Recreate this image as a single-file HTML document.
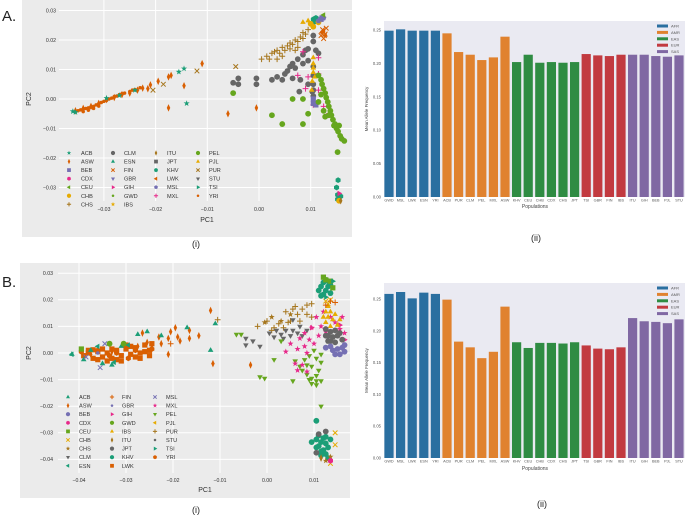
<!DOCTYPE html>
<html><head><meta charset="utf-8"><style>
html,body{margin:0;padding:0;background:#fff;width:685px;height:516px;overflow:hidden}
svg{display:block;font-family:"Liberation Sans",sans-serif}
</style></head><body>
<svg id="fig" width="685" height="516" viewBox="0 0 685 516"></svg>
<script>
// ---------- DATA ----------
const barPops = ["GWD","MSL","LWK","ESN","YRI","ACB","PUR","CLM","PEL","MXL","ASW","KHV","CEU","CHB","CDX","CHS","JPT","TSI","GBR","FIN","IBS","ITU","GIH","BEB","PJL","STU"];
const barGroups = ["AFR","AFR","AFR","AFR","AFR","AMR","AMR","AMR","AMR","AMR","AMR","EAS","EAS","EAS","EAS","EAS","EAS","EUR","EUR","EUR","EUR","SAS","SAS","SAS","SAS","SAS"];
const barValuesA = [0.249,0.251,0.249,0.249,0.249,0.245,0.217,0.213,0.205,0.209,0.240,0.202,0.213,0.201,0.202,0.201,0.202,0.214,0.212,0.211,0.213,0.213,0.213,0.211,0.210,0.212];
const barValuesB = [0.258,0.261,0.251,0.260,0.258,0.249,0.183,0.174,0.157,0.167,0.238,0.182,0.173,0.181,0.181,0.180,0.182,0.177,0.172,0.171,0.174,0.220,0.215,0.214,0.212,0.218];
const barTicks = [0,0.05,0.10,0.15,0.20,0.25];
const superPops = ["AFR","AMR","EAS","EUR","SAS"];

const pcaXTicksA = [-0.03,-0.02,-0.01,0.00,0.01];
const pcaYTicksA = [-0.03,-0.02,-0.01,0.00,0.01,0.02,0.03];
const pcaXTicksB = [-0.04,-0.03,-0.02,-0.01,0.00,0.01];
const pcaYTicksB = [-0.04,-0.03,-0.02,-0.01,0.00,0.01,0.02,0.03];

// scatter A points [pop, pc1, pc2]
const ptsA = [
["YRI",-0.0355,-0.0043],["YRI",-0.035,-0.004],["YRI",-0.0345,-0.0037],["YRI",-0.034,-0.0035],["YRI",-0.0335,-0.0032],["YRI",-0.033,-0.003],["YRI",-0.0325,-0.0028],["YRI",-0.032,-0.0025],["YRI",-0.0315,-0.002],["YRI",-0.031,-0.0017],["YRI",-0.0305,-0.0012],["YRI",-0.03,-0.0008],["YRI",-0.0295,-0.0005],["YRI",-0.029,0],["YRI",-0.0285,0.0003],["YRI",-0.028,0.0008],["YRI",-0.0275,0.001],["YRI",-0.027,0.0015],["YRI",-0.0265,0.0018],["YRI",-0.026,0.002],["YRI",-0.025,0.0025],["YRI",-0.0245,0.003],["YRI",-0.024,0.0032],["YRI",-0.023,0.0038],["YRI",-0.034,-0.0043],["YRI",-0.033,-0.0038],["YRI",-0.032,-0.0032],["YRI",-0.031,-0.0024],
["ASW",-0.0355,-0.004],["ASW",-0.034,-0.0032],["ASW",-0.0325,-0.0025],["ASW",-0.031,-0.0015],["ASW",-0.0295,-0.0002],["ASW",-0.028,0.0005],["ASW",-0.0265,0.0015],["ASW",-0.025,0.002],["ASW",-0.0235,0.003],["ASW",-0.0225,0.0037],["ASW",-0.021,0.0048],["ASW",-0.0195,0.006],["ASW",-0.0175,0.0075],["ASW",-0.017,0.008],["ASW",-0.0145,0.0045],["ASW",-0.011,0.012],["ASW",-0.0175,-0.003],["ASW",-0.006,-0.005],["ASW",-0.0005,-0.003],["ASW",-0.0215,0.0035],
["ACB",-0.0355,-0.0045],["ACB",-0.036,-0.0042],["ACB",-0.0295,0.0003],["ACB",-0.027,0.0012],["ACB",-0.0155,0.0092],["ACB",-0.0145,0.0103],["ACB",-0.014,-0.0015],["ACB",-0.024,0.003],
["PUR",-0.0205,0.003],["PUR",-0.0185,0.005],["PUR",-0.012,0.0095],["PUR",-0.0045,0.011],
["CHS",0.0005,0.0135],["CHS",0.0015,0.0145],["CHS",0.0025,0.0155],["CHS",0.003,0.016],["CHS",0.0035,0.0165],["CHS",0.004,0.0155],["CHS",0.0045,0.0175],["CHS",0.005,0.0165],["CHS",0.0055,0.018],["CHS",0.006,0.019],["CHS",0.0065,0.0185],["CHS",0.007,0.02],["CHS",0.0075,0.0195],["CHS",0.008,0.021],["CHS",0.0085,0.0205],["CHS",0.009,0.022],["CHS",0.006,0.017],["CHS",0.0045,0.0145],["CHS",0.002,0.0135],["CHS",0.0075,0.0175],["CHS",0.0085,0.0225],["CHS",0.0095,0.0235],["CHS",0.007,0.0165],["CHS",0.0035,0.0135],
["CLM",-0.005,0.0055],["CLM",-0.004,0.007],["CLM",-0.004,0.005],["CLM",-0.0005,0.007],["CLM",-0.0005,0.005],["CLM",0.0025,0.0065],["CLM",0.0035,0.0075],["CLM",0.0045,0.0065],["CLM",0.0055,0.0095],["CLM",0.006,0.011],["CLM",0.0065,0.012],["CLM",0.005,0.0085],["CLM",0.007,0.0105],["CLM",0.0075,0.0135],["CLM",0.0085,0.015],["CLM",0.009,0.0165],["CLM",0.0095,0.017],["CLM",0.0105,0.0195],["CLM",0.0105,0.0215],["CLM",0.0095,0.013],["CLM",0.0085,0.012],["CLM",0.0105,0.011],["CLM",0.0105,0.008],["CLM",0.0105,0.005],["CLM",0.0105,0.003],["CLM",0.0105,0.001],["CLM",0.0103,0.0025],["CLM",0.0095,0.005],["CLM",0.0078,0.0025],["CLM",0.008,0.0065],["CLM",0.0065,0.007],["CLM",0.011,0.0165],["CLM",0.0115,0.0155],
["PJL",0.0105,0.014],["PJL",0.0105,0.012],["PJL",0.0105,0.0105],["PJL",0.0105,0.009],["PJL",0.0108,0.0075],["PJL",0.0103,0.006],["PJL",0.0102,0.003],["PJL",0.0095,0.0265],["PJL",0.0085,0.026],
["MXL",0.0085,0.016],["MXL",0.0115,0.014],["MXL",0.0075,0.008],["MXL",0.0115,0.003],["MXL",0.0125,-0.0025],["MXL",0.0135,-0.005],["MXL",0.0095,0.0075],["MXL",0.0115,0.0085],["MXL",0.009,0.0035],["MXL",0.0105,-0.002],
["BEB",0.0105,-0.0015],["BEB",0.011,-0.002],["BEB",0.0105,0.0],["BEB",0.0122,0.0275],["BEB",0.012,0.027],
["PEL",0.0115,0.008],["PEL",0.012,0.0065],["PEL",0.0122,0.005],["PEL",0.0125,0.0035],["PEL",0.0128,0.002],["PEL",0.013,0.0005],["PEL",0.0133,-0.001],["PEL",0.0135,-0.0025],["PEL",0.0138,-0.004],["PEL",0.014,-0.0055],["PEL",0.0143,-0.007],["PEL",0.0147,-0.0085],["PEL",0.015,-0.01],["PEL",0.0153,-0.011],["PEL",0.0157,-0.0125],["PEL",0.016,-0.0135],["PEL",0.0165,-0.0142],["PEL",0.0135,-0.0055],["PEL",0.0125,-0.004],["PEL",0.0145,-0.009],["PEL",0.0155,-0.009],["PEL",0.012,0.0015],["PEL",-0.005,0.002],["PEL",0.0025,-0.0055],["PEL",0.0065,0.0],["PEL",0.0085,-0.0085],["PEL",0.0045,-0.0085],["PEL",0.0095,-0.005],["PEL",0.0085,0.0],["PEL",0.0152,-0.018],["PEL",0.0115,-0.001],["PEL",0.0128,-0.006],
["KHV",0.0105,0.027],["KHV",0.011,0.0275],["KHV",0.0108,0.0262],["KHV",0.0153,-0.0275],["KHV",0.015,-0.03],["KHV",0.0152,-0.0325],["KHV",0.0155,-0.0335],["KHV",0.0158,-0.033],["KHV",0.0152,-0.034],
["CHB",0.0115,0.026],["CHB",0.01,0.0255],["CHB",0.0105,0.0245],["CHB",0.0155,-0.0345],
["FIN",0.0123,0.0235],["FIN",0.0128,0.022],["FIN",0.012,0.0215],["FIN",0.013,0.024],["FIN",0.0125,0.0205],
["LWK",0.0125,0.023],["LWK",0.0122,0.0225],["LWK",0.0128,0.0215],
["MSL",0.0125,0.0275],["MSL",0.0115,0.0265],
["CEU",0.0125,0.0285],["GIH",0.0155,-0.032],["ITU",0.0158,-0.0345]
];

// scatter B points
const ptsB = [
["LWK",-0.039,-0.001],["LWK",-0.038,0.0],["LWK",-0.037,-0.002],["LWK",-0.036,0.0005],["LWK",-0.035,-0.0015],["LWK",-0.034,0.0],["LWK",-0.033,-0.002],["LWK",-0.032,0.001],["LWK",-0.031,-0.001],["LWK",-0.030,0.0015],["LWK",-0.029,-0.0005],["LWK",-0.028,0.002],["LWK",-0.027,0.0],["LWK",-0.026,0.003],["LWK",-0.025,0.001],["LWK",-0.0245,0.0035],["LWK",-0.036,-0.0025],["LWK",-0.033,0.0015],["LWK",-0.031,-0.003],["LWK",-0.029,0.0025],["LWK",-0.027,-0.002],["LWK",-0.025,-0.001],["LWK",-0.038,0.001],["LWK",-0.034,-0.003],["LWK",-0.032,-0.0025],["LWK",-0.030,0.003],["LWK",-0.028,-0.0015],["LWK",-0.026,0.0005],["LWK",-0.035,0.0015],["LWK",-0.037,0.0012],
["YRI",-0.0395,0.0005],["YRI",-0.036,0.001],["YRI",-0.032,0.0],["YRI",-0.028,0.001],["YRI",-0.0245,0.0015],["YRI",-0.0335,-0.001],["YRI",-0.0295,-0.002],
["ASW",-0.0375,-0.0005],["ASW",-0.033,0.0005],["ASW",-0.0275,0.0025],["ASW",-0.0255,0.004],["ASW",-0.0245,0.002],["ASW",-0.0225,0.0035],["ASW",-0.021,0.0055],["ASW",-0.0205,0.008],["ASW",-0.0195,0.0095],["ASW",-0.019,0.006],["ASW",-0.0185,0.0045],["ASW",-0.0165,0.0085],["ASW",-0.0165,0.0055],["ASW",-0.0145,0.0065],["ASW",-0.012,0.016],["ASW",-0.0115,-0.004],["ASW",-0.0035,-0.0045],["ASW",-0.021,-0.0005],["ASW",-0.0265,0.0075],["ASW",-0.023,0.006],
["ACB",-0.0415,-0.0005],["ACB",-0.039,-0.0025],["ACB",-0.035,-0.004],["ACB",-0.033,-0.0045],["ACB",-0.031,0.0025],["ACB",-0.0275,0.007],["ACB",-0.0255,0.008],["ACB",-0.0225,0.0065],["ACB",-0.017,0.0095],["ACB",-0.011,0.011],["ACB",-0.012,0.001],["ACB",-0.0375,0.001],
["ESN",-0.0415,-0.0005],["ESN",-0.036,0.0025],["ESN",-0.0325,-0.0035],["ESN",-0.0295,0.003],
["MSL",-0.0355,-0.0055],["MSL",-0.0345,0.0035],["MSL",-0.0385,-0.0015],["GBR",-0.036,0.0],["CEU",-0.0395,0.0015],["GWD",-0.0335,0.0035],["GWD",-0.0305,0.0035],
["FIN",-0.0205,0.0035],["PUR",-0.0105,0.0125],["PUR",-0.002,0.01],
["CHS",-0.0005,0.0115],["CHS",0.001,0.0135],["CHS",0.003,0.012],["CHS",0.005,0.0145],
["PUR",0.0,0.012],["PUR",0.001,0.0085],["PUR",0.0025,0.011],["PUR",0.004,0.0155],["PUR",0.005,0.012],["PUR",0.006,0.0175],["PUR",0.0065,0.0145],["PUR",0.0075,0.0165],["PUR",0.0085,0.018],["PUR",0.0085,0.0145],["PUR",0.0095,0.0185],["PUR",0.0055,0.0165],["PUR",0.0035,0.0095],["PUR",0.007,0.012],["PUR",0.0045,0.0115],["PUR",0.0015,0.0095],["PUR",0.0095,0.0135],
["CLM",-0.0045,0.003],["CLM",-0.0045,0.0055],["CLM",-0.003,0.0045],["CLM",-0.0015,0.0025],["CLM",0.0005,0.0075],["CLM",0.0015,0.006],["CLM",0.002,0.0085],["CLM",0.003,0.007],["CLM",0.004,0.0085],["CLM",0.005,0.0065],["CLM",0.0055,0.0085],["CLM",0.0065,0.0075],["CLM",0.007,0.01],["CLM",0.0075,0.0065],["CLM",0.0055,0.0125],["CLM",0.0035,0.0055],["CLM",0.0085,0.0085],
["PEL",-0.0065,0.007],["PEL",-0.0055,0.007],["PEL",-0.0015,-0.009],["PEL",-0.0005,-0.0095],["PEL",0.0015,-0.0025],["PEL",0.003,0.0045],["PEL",0.0055,-0.0105],["PEL",0.006,-0.003],["PEL",0.007,-0.005],["PEL",0.0075,-0.0065],["PEL",0.008,-0.0025],["PEL",0.0085,-0.008],["PEL",0.009,-0.01],["PEL",0.0095,-0.005],["PEL",0.0095,-0.0115],["PEL",0.0105,-0.012],["PEL",0.0105,-0.0085],["PEL",0.011,-0.0065],["PEL",0.0115,-0.0105],["PEL",0.0115,-0.0035],["PEL",0.009,-0.001],["PEL",0.01,0.001],["PEL",0.0105,-0.002],["PEL",0.0085,-0.0045],["PEL",0.0095,-0.0095],["PEL",0.0105,-0.0105],["PEL",0.0115,-0.02],["PEL",0.0115,-0.0005],
["MXL",0.004,0.0005],["MXL",0.005,0.0035],["MXL",0.006,-0.004],["MXL",0.0065,0.0015],["MXL",0.007,0.0055],["MXL",0.0075,-0.0045],["MXL",0.008,0.0025],["MXL",0.008,0.0075],["MXL",0.0085,0.0],["MXL",0.009,0.005],["MXL",0.0095,0.0095],["MXL",0.01,0.0035],["MXL",0.0105,0.0135],["MXL",0.011,0.0065],["MXL",0.0115,0.01],["MXL",0.012,0.0155],["MXL",0.0125,0.008],["MXL",0.0135,0.0135],["MXL",0.0145,0.0115],["MXL",0.0155,0.009],["MXL",0.016,0.0135],["MXL",0.0165,0.0075],["MXL",0.0065,-0.0065],["MXL",0.0085,-0.007],
["GIH",0.0155,0.0105],["GIH",0.0165,0.005],["GIH",0.0095,0.0095],
["IBS",0.0125,0.0155],["IBS",0.013,0.0135],["IBS",0.0135,0.0155],["IBS",0.014,0.0125],["IBS",0.0145,0.0145],["IBS",0.0125,0.0115],["IBS",0.015,0.0105],["IBS",0.013,0.0175],["IBS",0.0155,0.0125],["IBS",0.0135,0.01],["IBS",0.012,0.0135],
["JPT",0.0125,0.009],["JPT",0.013,0.0065],["JPT",0.0135,0.008],["JPT",0.014,0.006],["JPT",0.0145,0.0085],["JPT",0.015,0.0065],["JPT",0.013,0.0045],["JPT",0.0155,0.0075],["JPT",0.0135,0.0045],["JPT",0.016,0.005],["JPT",0.0125,0.0065],["JPT",0.0145,0.004],
["BEB",0.0135,0.0025],["BEB",0.014,0.001],["BEB",0.015,0.0015],["BEB",0.0155,-0.0005],["BEB",0.016,0.002],["BEB",0.0165,0.0005],["BEB",0.0145,-0.0005],["BEB",0.0125,0.002],["BEB",0.0165,0.003],
["CHB",0.0125,0.0195],["CHB",0.0135,0.02],["CHB",0.013,0.0185],["CHB",0.0145,-0.0345],["CHB",0.0135,-0.0415],["CHB",0.0145,-0.03],
["FIN",0.0125,0.018],["FIN",0.0135,0.0195],["FIN",0.0145,0.019],
["KHV",0.0115,0.025],["KHV",0.012,0.0265],["KHV",0.0125,0.0235],["KHV",0.013,0.025],["KHV",0.0135,0.0225],["KHV",0.012,0.022],["KHV",0.011,0.0235],["KHV",0.013,0.027],["KHV",0.0115,0.0215],["KHV",0.0125,0.0275],["KHV",0.0135,0.0255],
["CEU",0.0125,0.0275],["CEU",0.0135,0.027],["CEU",0.012,0.0285],["CEU",0.014,0.0245],
["TSI",0.014,0.027],["TSI",0.0125,0.021],
["KHV",0.0105,-0.0325],["KHV",0.011,-0.031],["KHV",0.0115,-0.0335],["KHV",0.012,-0.032],["KHV",0.0125,-0.034],["KHV",0.011,-0.035],["KHV",0.0115,-0.037],["KHV",0.012,-0.0365],["KHV",0.0125,-0.038],["KHV",0.013,-0.0355],["KHV",0.0115,-0.0385],["KHV",0.0105,-0.0355],["KHV",0.0125,-0.0315],["KHV",0.0135,-0.0325],["KHV",0.013,-0.0395],["KHV",0.0095,-0.0335],["KHV",0.0105,-0.0255],
["JPT",0.011,-0.0305],["JPT",0.0105,-0.0375],["JPT",0.0125,-0.0295],
["CHS",0.0125,-0.0405],["CHS",0.0135,-0.039],["ITU",0.0115,-0.0395],["CDX",0.0135,-0.0405]
];

// ---------- RENDER ----------
const NS="http://www.w3.org/2000/svg";
const svg=document.getElementById('fig');
function el(tag,attrs,parent){const e=document.createElementNS(NS,tag);for(const k in attrs)e.setAttribute(k,attrs[k]);(parent||svg).appendChild(e);return e;}
function txt(s,x,y,size,anchor,parent,fill){const t=el('text',{x:x,y:y,'font-size':size,'text-anchor':anchor||'start',fill:fill||'#333'},parent);t.textContent=s;return t;}

const C={teal:"#1b9e77",orange:"#d95f02",purple:"#7570b3",pink:"#e7298a",green:"#66a61e",yellow:"#e6ab02",tan:"#a6761d",gray:"#666666"};
const styleA={ACB:["star",C.teal],ASW:["diamond",C.orange],BEB:["square",C.purple],CDX:["hex",C.pink],CEU:["tril",C.green],CHB:["circle",C.yellow],CHS:["plus",C.tan],
CLM:["circle",C.gray],ESN:["triu",C.teal],FIN:["x",C.orange],GBR:["trid",C.purple],GIH:["trir",C.pink],GWD:["dot",C.green],IBS:["star",C.yellow],
ITU:["diamond",C.tan],JPT:["square",C.gray],KHV:["hex",C.teal],LWK:["tril",C.orange],MSL:["pent",C.purple],MXL:["plus",C.pink],
PEL:["circle",C.green],PJL:["triu",C.yellow],PUR:["x",C.tan],STU:["trid",C.gray],TSI:["trir",C.teal],YRI:["dot",C.orange]};
const styleB={ACB:["triu",C.teal],ASW:["diamond",C.orange],BEB:["circle",C.purple],CDX:["hex",C.pink],CEU:["square",C.green],CHB:["x",C.yellow],CHS:["star",C.tan],CLM:["trid",C.gray],ESN:["tril",C.teal],
FIN:["plus",C.orange],GBR:["dot",C.purple],GIH:["trir",C.pink],GWD:["circle",C.green],IBS:["triu",C.yellow],ITU:["diamond",C.tan],JPT:["circle",C.gray],KHV:["circle",C.teal],LWK:["square",C.orange],
MSL:["x",C.purple],MXL:["star",C.pink],PEL:["trid",C.green],PJL:["tril",C.yellow],PUR:["plus",C.tan],STU:["dot",C.gray],TSI:["trir",C.teal],YRI:["hex",C.orange]};

function poly(n,r,x,y,rot){let p=[];for(let i=0;i<n;i++){const a=rot+i*2*Math.PI/n;p.push((x+r*Math.cos(a)).toFixed(1)+","+(y+r*Math.sin(a)).toFixed(1));}return p.join(" ");}
function marker(type,x,y,r,col,g){
  let m;
  switch(type){
    case "circle": m=el('circle',{cx:x,cy:y,r:r,fill:col},g);break;
    case "dot": m=el('circle',{cx:x,cy:y,r:r*0.6,fill:col},g);break;
    case "square": m=el('rect',{x:x-r*0.9,y:y-r*0.9,width:r*1.8,height:r*1.8,fill:col},g);break;
    case "diamond": m=el('polygon',{points:`${x},${y-r*1.3} ${x+r*0.6},${y} ${x},${y+r*1.3} ${x-r*0.6},${y}`,fill:col},g);break;
    case "hex": m=el('polygon',{points:poly(6,r,x,y,Math.PI/6),fill:col},g);break;
    case "pent": m=el('polygon',{points:poly(5,r,x,y,-Math.PI/2),fill:col},g);break;
    case "triu": m=el('polygon',{points:poly(3,r*1.1,x,y,-Math.PI/2),fill:col},g);break;
    case "trid": m=el('polygon',{points:poly(3,r*1.1,x,y,Math.PI/2),fill:col},g);break;
    case "tril": m=el('polygon',{points:poly(3,r*1.1,x,y,Math.PI),fill:col},g);break;
    case "trir": m=el('polygon',{points:poly(3,r*1.1,x,y,0),fill:col},g);break;
    case "star": {let p=[];for(let i=0;i<10;i++){const a=-Math.PI/2+i*Math.PI/5;const rr=i%2?r*0.45:r*1.1;p.push((x+rr*Math.cos(a)).toFixed(1)+","+(y+rr*Math.sin(a)).toFixed(1));}m=el('polygon',{points:p.join(" "),fill:col},g);break;}
    case "plus": m=el('path',{d:`M${x-r},${y}H${x+r}M${x},${y-r}V${y+r}`,stroke:col,'stroke-width':1,fill:'none'},g);break;
    case "x": m=el('path',{d:`M${x-r*0.8},${y-r*0.8}L${x+r*0.8},${y+r*0.8}M${x-r*0.8},${y+r*0.8}L${x+r*0.8},${y-r*0.8}`,stroke:col,'stroke-width':1,fill:'none'},g);break;
  }
  return m;
}

function scatter(cfg){
  const g=el('g',{});
  
  
  const bg=el('rect',{x:cfg.bx,y:cfg.by,width:cfg.bw,height:cfg.bh,fill:'#ebebeb'},g);
  
  
  const sx=v=>cfg.x0+(v-0)*cfg.kx, sy=v=>cfg.y0-(v-0)*cfg.ky;
  const clipId=cfg.name+'-clip';
  const cp=el('clipPath',{id:clipId},g);el('rect',{x:cfg.bx,y:cfg.by,width:cfg.bw,height:cfg.bh},cp);
  cfg.xt.forEach(v=>{const l=el('line',{x1:sx(v),x2:sx(v),y1:cfg.by,y2:cfg.py2,stroke:'#fff','stroke-width':1},g);
    
    const t=txt(v.toFixed(2).replace('-','\u2212'),sx(v),cfg.xty,5.2,'middle',g);
    });
  cfg.yt.forEach(v=>{const l=el('line',{x1:cfg.px1,x2:cfg.bx+cfg.bw,y1:sy(v),y2:sy(v),stroke:'#fff','stroke-width':1},g);
    
    const t=txt(v.toFixed(2).replace('-','\u2212'),cfg.ytx,sy(v)+1.8,5.2,'end',g);
    });
  const pg=el('g',{'clip-path':`url(#${clipId})`},g);
  
  
  cfg.pts.forEach(p=>{const s=cfg.style[p[0]];const m=marker(s[0],sx(p[1]),sy(p[2]),2.9,s[1],pg);
    });
  const lg=el('g',{},g);
  
  
  cfg.legend.forEach((col,ci)=>col.forEach((pop,ri)=>{
    const y=cfg.ly+ri*cfg.lstep;const s=cfg.style[pop];
    const m=marker(s[0],cfg.lmx[ci],y,2.1,s[1],lg);
    
    const t=txt(pop,cfg.ltx[ci],y+2,5.6,'start',lg);
    }));
  const xl=txt('PC1',cfg.xlxx,cfg.xly,7,'middle',g);
  const yl=txt('PC2',0,0,7,'middle',g);yl.setAttribute('transform',`translate(${cfg.ylx},${cfg.yly}) rotate(-90)`);
  
}

scatter({name:'pca-plot-a',bx:22,by:0,bw:330,bh:237,x0:259,kx:5170,y0:99,ky:2950,px1:59,py2:201,
  xt:pcaXTicksA,yt:pcaYTicksA,xty:211,ytx:56,xlxx:207,xly:222,ylx:31,yly:99,pts:ptsA,style:styleA,
  legend:[["ACB","ASW","BEB","CDX","CEU","CHB","CHS"],["CLM","ESN","FIN","GBR","GIH","GWD","IBS"],["ITU","JPT","KHV","LWK","MSL","MXL"],["PEL","PJL","PUR","STU","TSI","YRI"]],
  lmx:[69,113,156,198],ltx:[81,124,167,209],ly:153,lstep:8.55});
scatter({name:'pca-plot-b',bx:20,by:263,bw:330,bh:235,x0:267,kx:4700,y0:353,ky:2660,px1:58,py2:473,
  xt:pcaXTicksB,yt:pcaYTicksB,xty:482,ytx:53,xlxx:205,xly:492,ylx:31,yly:353,pts:ptsB,style:styleB,
  legend:[["ACB","ASW","BEB","CDX","CEU","CHB","CHS","CLM","ESN"],["FIN","GBR","GIH","GWD","IBS","ITU","JPT","KHV","LWK"],["MSL","MXL","PEL","PJL","PUR","STU","TSI","YRI"]],
  lmx:[68,112,155],ltx:[79,122,166],ly:397,lstep:8.6});

const superCol={AFR:"#2a6fa0",AMR:"#e0822f",EAS:"#2f8c43",EUR:"#c23a40",SAS:"#8068a3"};
function bars(cfg){
  const g=el('g',{});
  
  
  const bg=el('rect',{x:cfg.ax,y:cfg.ay,width:685-cfg.ax,height:cfg.ah,fill:'#eaeaf2'},g);
  
  const sy=v=>cfg.y0-v*cfg.k;
  const step=11.6, bw=9.2, x0=389;
  barTicks.forEach(v=>{const t=txt(v.toFixed(2),cfg.ax-3,sy(v)+1.5,4.2,'end',g,'#555');
    });
  cfg.vals.forEach((v,i)=>{const cx=x0+i*step;
    const r=el('rect',{x:cx-bw/2,y:sy(v),width:bw,height:cfg.y0-sy(v),fill:superCol[barGroups[i]]},g);
    
    const t=txt(barPops[i],cx,cfg.y0+4.5,3.8,'middle',g,'#555');
    });
  const xl=txt('Populations',cfg.xlx,cfg.xly,5,'middle',g,'#444');
  const yl=txt('Mean Allele Frequency',0,0,4.4,'middle',g,'#444');yl.setAttribute('transform',`translate(${cfg.ax-16},${cfg.y0-cfg.ah/2}) rotate(-90)`);
  
  const lg=el('g',{},g);
  el('rect',{x:655,y:cfg.ly-4,width:32,height:33,fill:'#eaeaf2',opacity:0.8},lg);
  superPops.forEach((s,i)=>{const y=cfg.ly+i*6.4;
    const r=el('rect',{x:657,y:y-1.5,width:11,height:3,fill:superCol[s]},lg);
    
    const t=txt(s,671,y+1.5,4,'start',lg,'#555');});
}
bars({name:'bar-chart-a',ax:384,ay:21,ah:176,y0:197,k:668,vals:barValuesA,xlx:535,xly:208,ly:26});
bars({name:'bar-chart-b',ax:384,ay:283,ah:175,y0:458,k:636,vals:barValuesB,xlx:535,xly:470,ly:288});

[["A.",2,21,15,'panel-label-a','start'],["B.",2,287,15,'panel-label-b','start'],["(i)",196,247,9,'caption-a-i','middle'],["(ii)",536,241,9,'caption-a-ii','middle'],["(i)",196,513,9,'caption-b-i','middle'],["(ii)",542,507,9,'caption-b-ii','middle']].forEach(a=>{
  const t=txt(a[0],a[1],a[2],a[3],a[5],svg,'#222');
  });
</script>
</body></html>
